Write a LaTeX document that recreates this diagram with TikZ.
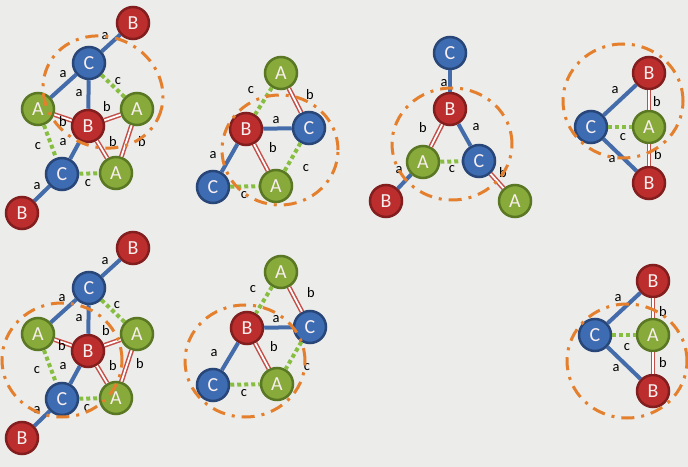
\documentclass[tikz,border=0pt]{standalone}
\usepackage{fontspec}
\setmainfont{Carlito}
\definecolor{bgc}{RGB}{236,236,234}
\definecolor{blueF}{RGB}{62,108,178}
\definecolor{blueD}{RGB}{40,70,120}
\definecolor{redF}{RGB}{188,46,46}
\definecolor{redD}{RGB}{130,30,30}
\definecolor{greenF}{RGB}{135,170,58}
\definecolor{greenD}{RGB}{90,120,36}
\definecolor{blueL}{RGB}{68,108,170}
\definecolor{redL}{RGB}{196,78,72}
\definecolor{greenL}{RGB}{135,190,65}
\definecolor{orng}{RGB}{228,128,45}
\tikzset{
  nd/.style={circle,minimum size=32bp,inner sep=0pt,line width=2.5bp,text={rgb,255:red,248;green,238;blue,238},font=\fontsize{20}{20}\selectfont},
  bn/.style={nd,fill=redF,draw=redD},
  cn/.style={nd,fill=blueF,draw=blueD},
  an/.style={nd,fill=greenF,draw=greenD},
  ae/.style={draw=blueL,line width=4bp},
  be/.style={draw=redL,double=white,double distance=1.8bp,line width=1.5bp},
  ce/.style={draw=greenL,line width=4bp,dash pattern=on 4bp off 3bp},
  lbl/.style={inner sep=0pt,text=black,font=\fontsize{14.5}{14.5}\selectfont},
  ring/.style={draw=orng,line width=3bp,dash pattern=on 13bp off 7bp on 3bp off 7bp}
}
\begin{document}
\begin{tikzpicture}[x=1bp,y=-1bp]
\useasboundingbox[fill=bgc] (0,0) rectangle (688,467);
% ---------- cluster 1 (top-left)
\node[bn] (p1B1) at (133,23) {B};
\node[cn] (p1C1) at (89,63) {C};
\node[an] (p1A1) at (38,109) {A};
\node[an] (p1A2) at (137,109) {A};
\node[bn] (p1B2) at (88,126) {B};
\node[cn] (p1C2) at (62,174) {C};
\node[an] (p1A3) at (116,173) {A};
\node[bn] (p1B3) at (22,213) {B};
\draw[ae] (p1B1) -- (p1C1);
\draw[ae] (p1C1) -- (p1A1);
\draw[ae] (p1C1) -- (p1B2);
\draw[ce] (p1C1) -- (p1A2);
\draw[be] (p1A1) -- (p1B2);
\draw[be] (p1B2) -- (p1A2);
\draw[ce] (p1A1) -- (p1C2);
\draw[ae] (p1B2) -- (p1C2);
\draw[be] (p1B2) -- (p1A3);
\draw[be] (p1A2) -- (p1A3);
\draw[ce] (p1C2) -- (p1A3);
\draw[ae] (p1C2) -- (p1B3);
\node[lbl] (p1l1) at (105,36) {a};
\node[lbl] (p1l2) at (63,74) {a};
\node[lbl] (p1l3) at (79,93) {a};
\node[lbl] (p1l4) at (118,81) {c};
\node[lbl] (p1l5) at (63,122) {b};
\node[lbl] (p1l6) at (107,107) {b};
\node[lbl] (p1l7) at (38,146) {c};
\node[lbl] (p1l8) at (63,142) {a};
\node[lbl] (p1l9) at (113,142) {b};
\node[lbl] (p1l10) at (142,142) {b};
\node[lbl] (p1l11) at (88,183) {c};
\node[lbl] (p1l12) at (37,186) {a};
\draw[ring,rotate around={-25:(103,92)}] (103,92) ellipse [x radius=61bp, y radius=55bp];
% ---------- cluster 5 (bottom-left)
\node[bn] (p5B1) at (133,248) {B};
\node[cn] (p5C1) at (89,288) {C};
\node[an] (p5A1) at (38,334) {A};
\node[an] (p5A2) at (137,334) {A};
\node[bn] (p5B2) at (88,351) {B};
\node[cn] (p5C2) at (62,399) {C};
\node[an] (p5A3) at (116,398) {A};
\node[bn] (p5B3) at (22,438) {B};
\draw[ae] (p5B1) -- (p5C1);
\draw[ae] (p5C1) -- (p5A1);
\draw[ae] (p5C1) -- (p5B2);
\draw[ce] (p5C1) -- (p5A2);
\draw[be] (p5A1) -- (p5B2);
\draw[be] (p5B2) -- (p5A2);
\draw[ce] (p5A1) -- (p5C2);
\draw[ae] (p5B2) -- (p5C2);
\draw[be] (p5B2) -- (p5A3);
\draw[be] (p5A2) -- (p5A3);
\draw[ce] (p5C2) -- (p5A3);
\draw[ae] (p5C2) -- (p5B3);
\node[lbl] (p5l1) at (105,261) {a};
\node[lbl] (p5l2) at (62,298) {a};
\node[lbl] (p5l3) at (79,318) {a};
\node[lbl] (p5l4) at (117,305) {c};
\node[lbl] (p5l5) at (62,346) {b};
\node[lbl] (p5l6) at (106,331) {b};
\node[lbl] (p5l7) at (37,370) {c};
\node[lbl] (p5l8) at (63,366) {a};
\node[lbl] (p5l9) at (113,366) {b};
\node[lbl] (p5l10) at (140,364) {b};
\node[lbl] (p5l11) at (87,408) {c};
\node[lbl] (p5l12) at (37,410) {a};
\draw[ring] (62,360) ellipse [x radius=60bp, y radius=57bp];
% ---------- cluster 2 (top-middle)
\node[an] (p2A1) at (281,73) {A};
\node[bn] (p2B) at (246,129) {B};
\node[cn] (p2C1) at (309,128) {C};
\node[cn] (p2C2) at (213,187) {C};
\node[an] (p2A2) at (276,186) {A};
\draw[ce] (p2A1) -- (p2B);
\draw[be] (p2A1) -- (p2C1);
\draw[ae] (p2B) -- (p2C1);
\draw[ae] (p2B) -- (p2C2);
\draw[be] (p2B) -- (p2A2);
\draw[ce] (p2C1) -- (p2A2);
\draw[ce] (p2C2) -- (p2A2);
\node[lbl] (p2l1) at (251,90) {c};
\node[lbl] (p2l2) at (310,95) {b};
\node[lbl] (p2l3) at (276,120) {a};
\node[lbl] (p2l4) at (213,155) {a};
\node[lbl] (p2l5) at (273,148) {b};
\node[lbl] (p2l6) at (306,168) {c};
\node[lbl] (p2l7) at (244,195) {c};
\draw[ring] (280,150) ellipse [x radius=58bp, y radius=55bp];
% ---------- cluster 6 (bottom-middle)
\node[an] (p6A1) at (281,272) {A};
\node[bn] (p6B) at (247,328) {B};
\node[cn] (p6C1) at (310,327) {C};
\node[cn] (p6C2) at (213,385) {C};
\node[an] (p6A2) at (277,384) {A};
\draw[ce] (p6A1) -- (p6B);
\draw[be] (p6A1) -- (p6C1);
\draw[ae] (p6B) -- (p6C1);
\draw[ae] (p6B) -- (p6C2);
\draw[be] (p6B) -- (p6A2);
\draw[ce] (p6C1) -- (p6A2);
\draw[ce] (p6C2) -- (p6A2);
\node[lbl] (p6l1) at (253,289) {c};
\node[lbl] (p6l2) at (311,293) {b};
\node[lbl] (p6l3) at (276,319) {a};
\node[lbl] (p6l4) at (214,353) {a};
\node[lbl] (p6l5) at (274,347) {b};
\node[lbl] (p6l6) at (307,367) {c};
\node[lbl] (p6l7) at (244,393) {c};
\draw[ring] (245,361) ellipse [x radius=60bp, y radius=56bp];
% ---------- cluster 3
\node[cn] (p3C1) at (450,53) {C};
\node[bn] (p3B1) at (450,109) {B};
\node[an] (p3A1) at (423,162) {A};
\node[cn] (p3C2) at (479,161) {C};
\node[bn] (p3B2) at (386,201) {B};
\node[an] (p3A2) at (515,201) {A};
\draw[ae] (p3C1) -- (p3B1);
\draw[be] (p3B1) -- (p3A1);
\draw[ae] (p3B1) -- (p3C2);
\draw[ce] (p3A1) -- (p3C2);
\draw[ae] (p3A1) -- (p3B2);
\draw[be] (p3C2) -- (p3A2);
\node[lbl] (p3l1) at (444,83) {a};
\node[lbl] (p3l2) at (423,128) {b};
\node[lbl] (p3l3) at (476,127) {a};
\node[lbl] (p3l4) at (452,169) {c};
\node[lbl] (p3l5) at (399,170) {a};
\node[lbl] (p3l6) at (503,173) {b};
\draw[ring] (452,144) ellipse [x radius=60bp, y radius=56bp];
% ---------- cluster 4
\node[bn] (p4B1) at (649,73) {B};
\node[cn] (p4C) at (591,127) {C};
\node[an] (p4A) at (649,127) {A};
\node[bn] (p4B2) at (649,183) {B};
\draw[ae] (p4C) -- (p4B1);
\draw[be] (p4B1) -- (p4A);
\draw[ce] (p4C) -- (p4A);
\draw[ae] (p4C) -- (p4B2);
\draw[be] (p4A) -- (p4B2);
\node[lbl] (p4l1) at (615,90) {a};
\node[lbl] (p4l2) at (657,102) {b};
\node[lbl] (p4l3) at (623,137) {c};
\node[lbl] (p4l4) at (612,159) {a};
\node[lbl] (p4l5) at (658,155) {b};
\draw[ring] (623,101) ellipse [x radius=60bp, y radius=57bp];
% ---------- cluster 7
\node[bn] (p7B1) at (653,281) {B};
\node[cn] (p7C) at (595,335) {C};
\node[an] (p7A) at (653,335) {A};
\node[bn] (p7B2) at (653,391) {B};
\draw[ae] (p7C) -- (p7B1);
\draw[be] (p7B1) -- (p7A);
\draw[ce] (p7C) -- (p7A);
\draw[ae] (p7C) -- (p7B2);
\draw[be] (p7A) -- (p7B2);
\node[lbl] (p7l1) at (618,298) {a};
\node[lbl] (p7l2) at (663,312) {b};
\node[lbl] (p7l3) at (627,347) {c};
\node[lbl] (p7l4) at (616,368) {a};
\node[lbl] (p7l5) at (663,363) {b};
\draw[ring] (627,361) ellipse [x radius=60bp, y radius=57bp];
\end{tikzpicture}
\end{document}
